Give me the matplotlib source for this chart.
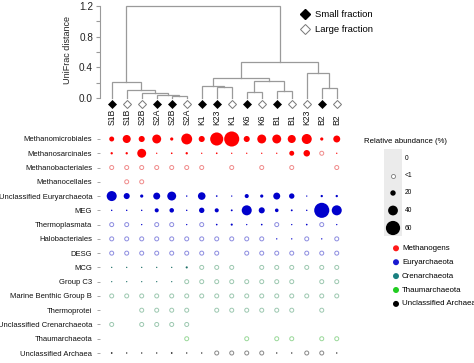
import matplotlib
matplotlib.use("Agg")
import matplotlib.pyplot as plt
from matplotlib.patches import Rectangle
import numpy as np

plt.rcParams['font.family'] = ['Liberation Sans', 'DejaVu Sans']

# ---------------- data ----------------
samples = ["S1B", "S1B", "S2B", "S2A", "S2B", "S2A", "K1", "K23", "K1",
           "K6", "K6", "B1", "B1", "K23", "B2", "B2"]
small_fraction = [1, 0, 0, 1, 1, 0, 1, 1, 0, 1, 0, 1, 0, 0, 1, 0]

# linkage: (left node, right node, height); leaves are 0..15, new nodes 16..
merges = [
    (4, 5, 0.03), (3, 16, 0.04), (2, 17, 0.06), (1, 18, 0.10), (0, 19, 0.21),
    (7, 8, 0.137), (6, 21, 0.15), (9, 10, 0.08), (11, 12, 0.09), (23, 24, 0.22),
    (22, 25, 0.26), (14, 15, 0.126), (13, 27, 0.32), (26, 28, 0.47), (20, 29, 1.2),
]

taxa = ["Methanomicrobiales", "Methanosarcinales", "Methanobacteriales",
        "Methanocellales", "Unclassified Euryarchaeota", "MEG", "Thermoplasmata",
        "Halobacteriales", "DESG", "MCG", "Group C3", "Marine Benthic Group B",
        "Thermoprotei", "Unclassified Crenarchaeota", "Thaumarchaeota",
        "Unclassified Archaea"]
taxa_group = ["Methanogens"] * 4 + ["Euryarchaeota"] * 5 + ["Crenarchaeota"] * 5 + \
             ["Thaumarchaeota", "Unclassified Archaea"]

# relative abundance (%); 0.5 stands for "<1", 0 for absent
abund = [
    [18, 32, 23, 36, 10, 45, 23, 55, 64, 23, 36, 36, 32, 41, 10, 27],
    [6, 6, 36, 1.5, 3, 6, 1.5, 3, 1.5, 1.5, 1.5, 1.5, 18, 25, 0.5, 1.5],
    [0.5, 0.5, 0.5, 0.5, 0.5, 0.5, 0.5, 0, 0.5, 0, 0.5, 0, 0.5, 0, 0, 0.5],
    [0, 0.5, 0.5, 0, 0, 0, 0, 0, 0, 0, 0, 0, 0, 0, 0, 0],
    [41, 23, 10, 27, 36, 2, 30, 3, 1.5, 14, 10, 27, 20, 1.5, 6, 6],
    [2, 2, 2, 14, 16, 2, 20, 14, 4, 41, 23, 12, 4, 2, 64, 41],
    [0.5, 0.5, 1.5, 0.5, 0.5, 1.5, 0.5, 3, 5, 1.5, 3, 0.5, 1.5, 3, 0.5, 1.5],
    [0.5, 0.5, 0.5, 0.5, 0.5, 0.5, 0.5, 0.5, 0.5, 0.5, 0.5, 1.5, 1.5, 0.5, 1.5, 0.5],
    [0.5, 0.5, 0.5, 0.5, 0.5, 0.5, 0.5, 0.5, 0, 0.5, 0.5, 0.5, 0.5, 0.5, 0.5, 0.5],
    [1.5, 1.5, 1.5, 1.5, 1.5, 5, 0.5, 0.5, 0.5, 0, 0.5, 0.5, 0.5, 0.5, 0.5, 0.5],
    [1.2, 1.2, 1.2, 1.2, 1.2, 0.5, 0.5, 0.5, 0.5, 0.5, 0.5, 0.5, 0.5, 0, 0.5, 0.5],
    [0.5] * 16,
    [0, 0, 0.5, 0.5, 0.5, 0.5, 0, 0.5, 0.5, 0.5, 0.5, 0.5, 0.5, 0, 0.5, 0],
    [0.5, 0, 0.5, 0.5, 0.5, 0.5, 0, 0, 0, 0, 0, 0, 0, 0, 0, 0],
    [0, 0, 0, 0, 0, 0.5, 0, 0, 0, 0.5, 0, 0.5, 0.5, 0, 0.5, 0.5],
    [3, 1.5, 1.5, 1.5, 3, 1.5, 1.5, 0.5, 0.5, 0.5, 0.5, 1.5, 1.5, 0.5, 0.5, 1.5],
]

size_legend_labels = ["0", "<1", "20", "40", "60"]
size_legend_values = [0, 0.5, 20, 40, 60]
group_names = ["Methanogens", "Euryarchaeota", "Crenarchaeota", "Thaumarchaeota",
               "Unclassified Archaea"]

# ---------------- styles ----------------
fill_col = {"Methanogens": "#ff0000", "Euryarchaeota": "#0000cc",
            "Crenarchaeota": "#1b6f66", "Thaumarchaeota": "#22bb22",
            "Unclassified Archaea": "#111111"}
ring_col = {"Methanogens": "#f08a8a", "Euryarchaeota": "#8c8ce0",
            "Crenarchaeota": "#9cc8b0", "Thaumarchaeota": "#99d899",
            "Unclassified Archaea": "#888888"}
legend_col = {"Methanogens": "#ff1a1a", "Euryarchaeota": "#1a1ad0",
              "Crenarchaeota": "#1a8080", "Thaumarchaeota": "#22cc22",
              "Unclassified Archaea": "#000000"}

DPI = 100
W, H = 474, 363
PT = 72.0 / DPI


def diam_px(v):
    return 1.0 + 0.22 * v


fig = plt.figure(figsize=(W / DPI, H / DPI), dpi=DPI)

xlim = (-0.78, 15.55)
left_f, width_f = 100 / W, 245 / W

# ---------------- dendrogram ----------------
axd = fig.add_axes([left_f, (H - 98) / H, width_f, 1.25 * 76.7 / H])
axd.set_xlim(*xlim)
axd.set_ylim(0, 1.25)
n = len(samples)
xpos = {i: float(i) for i in range(n)}
hpos = {i: 0.0 for i in range(n)}
lc = "#9a9a9a"
for k, (a, b, h) in enumerate(merges):
    node = n + k
    xa, xb = xpos[a], xpos[b]
    axd.plot([xa, xa, xb, xb], [hpos[a], h, h, hpos[b]], color=lc, lw=0.9,
             solid_joinstyle='miter', clip_on=False)
    xpos[node] = (xa + xb) / 2
    hpos[node] = h

for sp in ["top", "right", "bottom"]:
    axd.spines[sp].set_visible(False)
axd.spines["left"].set_bounds(0, 1.2)
axd.spines["left"].set_color(lc)
axd.spines["left"].set_linewidth(0.8)
axd.set_yticks(np.arange(0, 1.21, 0.2))
axd.set_yticklabels(["0.0", "", "0.4", "", "0.8", "", "1.2"])
axd.tick_params(axis="y", length=3, width=0.8, color=lc, labelsize=7.2, pad=2,
                labelcolor="#222222")
axd.set_xticks([])
axd.set_ylabel("UniFrac distance", fontsize=6.5, labelpad=5, color="#222222")
axd.patch.set_alpha(0)

# diamonds + sample labels
for i, (lab, sf) in enumerate(zip(samples, small_fraction)):
    if sf:
        axd.plot(i, -0.078, marker="D", ms=4.3, mfc="black", mec="black",
                 mew=0.5, clip_on=False)
    else:
        axd.plot(i, -0.078, marker="D", ms=4.3, mfc="white", mec="#777777",
                 mew=0.7, clip_on=False)
    axd.text(i, -0.352, lab, rotation=90, ha="center", va="bottom",
             fontsize=6.2, color="#111111", clip_on=False)

# ---------------- bubble grid ----------------
axb = fig.add_axes([left_f, 3 / H, width_f, 230 / H])
axb.set_xlim(*xlim)
axb.set_ylim(15 + 7 / 14.27, -9 / 14.27)
for r, (row, grp) in enumerate(zip(abund, taxa_group)):
    for c, v in enumerate(row):
        if v == 0:
            continue
        if v < 1:
            axb.scatter(c, r, s=(4.0 * PT) ** 2, facecolors="none",
                        edgecolors=ring_col[grp], linewidths=0.7)
        else:
            axb.scatter(c, r, s=(diam_px(v) * PT) ** 2, color=fill_col[grp],
                        edgecolors="none")
axb.set_yticks(range(len(taxa)))
axb.set_yticklabels(taxa)
axb.set_xticks([])
for sp in axb.spines.values():
    sp.set_visible(False)
axb.tick_params(axis="y", length=2.5, width=0.6, color="#999999", labelsize=5.5,
                pad=3, labelcolor="#111111")
axb.patch.set_alpha(0)

# ---------------- legends (pixel overlay) ----------------
axl = fig.add_axes([0, 0, 1, 1])
axl.set_xlim(0, W)
axl.set_ylim(H, 0)
axl.axis("off")
axl.patch.set_alpha(0)

axl.plot(305, 14.3, marker="D", ms=5, mfc="black", mec="black")
axl.text(315, 14.3, "Small fraction", fontsize=6.8, va="center", ha="left")
axl.plot(305, 29, marker="D", ms=5, mfc="white", mec="#777777", mew=0.7)
axl.text(315, 29, "Large fraction", fontsize=6.8, va="center", ha="left")

axl.text(364, 141.7, "Relative abundance (%)", fontsize=5.6, va="center", ha="left")
axl.add_patch(Rectangle((384, 149), 18, 87, facecolor="#ebebeb", edgecolor="none"))
for k, (lab, v) in enumerate(zip(size_legend_labels, size_legend_values)):
    yy = 158 + k * 17.5
    if 0 < v < 1:
        axl.scatter(393, yy, s=(4.0 * PT) ** 2, facecolors="white",
                    edgecolors="#777777", linewidths=0.6)
    elif v >= 1:
        axl.scatter(393, yy, s=(diam_px(v) * PT) ** 2, color="black",
                    edgecolors="none")
    axl.text(405, yy, lab, fontsize=4.8, va="center", ha="left")

for k, g in enumerate(group_names):
    yy = 248.3 + k * 13.9
    axl.scatter(396, yy, s=(6.0 * PT) ** 2, color=legend_col[g], edgecolors="none")
    axl.text(402, yy, g, fontsize=5.7, va="center", ha="left")

fig.savefig("out.png", dpi=DPI)
